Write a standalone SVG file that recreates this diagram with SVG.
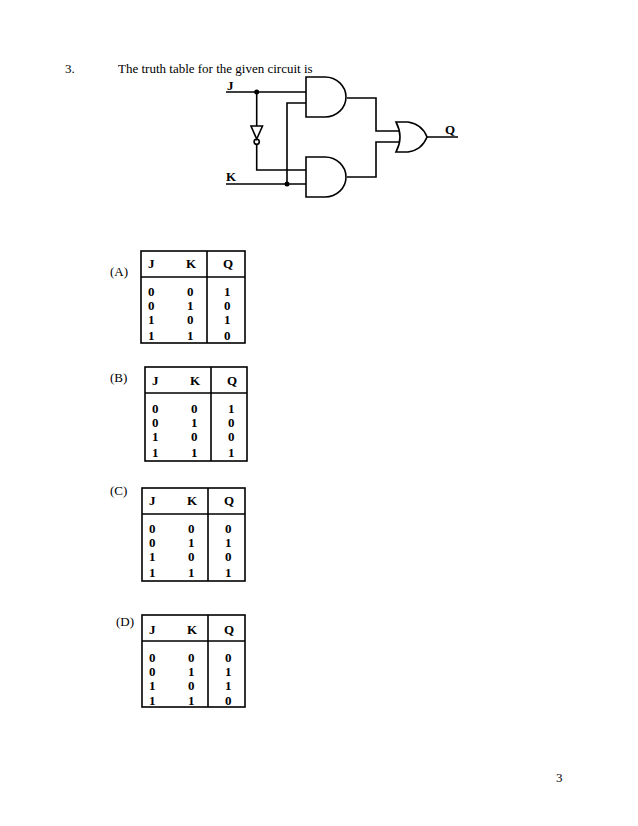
<svg xmlns="http://www.w3.org/2000/svg" width="638" height="826" viewBox="0 0 638 826">
<style>
text{font-family:"Liberation Serif",serif;font-size:13px;fill:#000}
.b{font-weight:bold}
.w{fill:none;stroke:#000;stroke-width:1.6}
.t{fill:none;stroke:#000;stroke-width:1.6}
</style>
<rect width="638" height="826" fill="#fff"/>
<text x="65" y="73">3.</text>
<text x="118" y="73">The truth table for the given circuit is</text>
<g id="circuit">
<text class="b" x="227" y="90" font-size="14">J</text>
<text class="b" x="226" y="181" font-size="14">K</text>
<text class="b" x="445" y="134" font-size="14">Q</text>
<g id="connectors">
<path class="w" d="M226 92H306M256.7 92V126M256.7 145V170H306M226 184H306M287 184V103H306M347 98H376V131H400M347 177H376V142H400M427 137H458"/>
<circle cx="256.7" cy="92" r="2.5"/>
<circle cx="287" cy="184" r="2.5"/>
</g>
<g id="not"><path class="w" d="M251 126H262.5L256.7 139Z"/><circle class="w" cx="256.7" cy="141.8" r="2.6" stroke-width="1.3"/></g>
<g id="and1"><path class="w" d="M306 77H325A21 20 0 0 1 325 117H306Z"/></g>
<g id="and2"><path class="w" d="M306 157H325A21 20 0 0 1 325 197H306Z"/></g>
<g id="or"><path class="w" d="M396 122H408Q422 124 427 137Q422 150 408 152H396Q404 137 396 122Z"/></g>
</g>
<g id="tableA">
<text x="110" y="276">(A)</text>
<rect class="t" x="141" y="251" width="104" height="92"/>
<path class="t" d="M141 277H245M207 251V343"/>
<g class="b"><text x="148" y="268">J</text><text x="186" y="268">K</text><text x="223" y="268">Q</text>
<text x="148" y="296">0</text><text x="187" y="296">0</text><text x="224" y="296">1</text>
<text x="148" y="310">0</text><text x="187" y="310">1</text><text x="224" y="310">0</text>
<text x="148" y="324">1</text><text x="187" y="324">0</text><text x="224" y="324">1</text>
<text x="148" y="340">1</text><text x="187" y="340">1</text><text x="224" y="340">0</text></g>
</g>
<g id="tableB">
<text x="110" y="382">(B)</text>
<rect class="t" x="145" y="367" width="102" height="94"/>
<path class="t" d="M145 393H247M211 367V461"/>
<g class="b"><text x="152" y="385">J</text><text x="190" y="385">K</text><text x="227" y="385">Q</text>
<text x="152" y="413">0</text><text x="191" y="413">0</text><text x="228" y="413">1</text>
<text x="152" y="427">0</text><text x="191" y="427">1</text><text x="228" y="427">0</text>
<text x="152" y="441">1</text><text x="191" y="441">0</text><text x="228" y="441">0</text>
<text x="152" y="457">1</text><text x="191" y="457">1</text><text x="228" y="457">1</text></g>
</g>
<g id="tableC">
<text x="110" y="495">(C)</text>
<rect class="t" x="142" y="488" width="103" height="93"/>
<path class="t" d="M142 514H245M208 488V581"/>
<g class="b"><text x="149" y="505">J</text><text x="187" y="505">K</text><text x="224" y="505">Q</text>
<text x="149" y="533">0</text><text x="188" y="533">0</text><text x="225" y="533">0</text>
<text x="149" y="547">0</text><text x="188" y="547">1</text><text x="225" y="547">1</text>
<text x="149" y="561">1</text><text x="188" y="561">0</text><text x="225" y="561">0</text>
<text x="149" y="577">1</text><text x="188" y="577">1</text><text x="225" y="577">1</text></g>
</g>
<g id="tableD">
<text x="116" y="626">(D)</text>
<rect class="t" x="142" y="615" width="103" height="92"/>
<path class="t" d="M142 641H245M208 615V707"/>
<g class="b"><text x="149" y="634">J</text><text x="187" y="634">K</text><text x="224" y="634">Q</text>
<text x="149" y="662">0</text><text x="188" y="662">0</text><text x="225" y="662">0</text>
<text x="149" y="676">0</text><text x="188" y="676">1</text><text x="225" y="676">1</text>
<text x="149" y="690">1</text><text x="188" y="690">0</text><text x="225" y="690">1</text>
<text x="149" y="705">1</text><text x="188" y="705">1</text><text x="225" y="705">0</text></g>
</g>
<text x="556" y="782">3</text>
</svg>
